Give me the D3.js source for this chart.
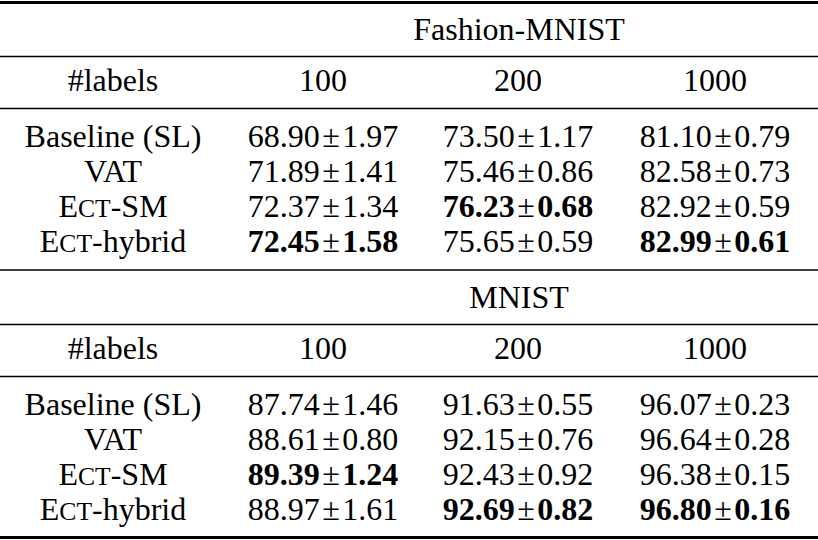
<!DOCTYPE html>
<html>
<head>
<meta charset="utf-8">
<script src="https://cdn.jsdelivr.net/npm/d3@7"></script>
<style>
  body { margin: 0; background: #fff; }
</style>
</head>
<body>
<script>
var labelCounts = ["100", "200", "1000"];
var methods = ["Baseline (SL)", "VAT", "ECT-SM", "ECT-hybrid"];
var datasets = ["Fashion-MNIST", "MNIST"];

// rows = methods, columns = #labels
var fashionMean = [[68.90, 73.50, 81.10], [71.89, 75.46, 82.58], [72.37, 76.23, 82.92], [72.45, 75.65, 82.99]];
var fashionStd  = [[1.97, 1.17, 0.79], [1.41, 0.86, 0.73], [1.34, 0.68, 0.59], [1.58, 0.59, 0.61]];
var mnistMean   = [[87.74, 91.63, 96.07], [88.61, 92.15, 96.64], [89.39, 92.43, 96.38], [88.97, 92.69, 96.80]];
var mnistStd    = [[1.46, 0.55, 0.23], [0.80, 0.76, 0.28], [1.24, 0.92, 0.15], [1.61, 0.82, 0.16]];

var width = 818,
    height = 540,
    fontSize = 32,
    serifFont = "Liberation Serif";

var svg = d3.select("body").append("svg")
    .attr("width", width)
    .attr("height", height);

var x = d3.scaleOrdinal()
    .domain(["method"].concat(labelCounts))
    .range([113, 323, 518, 715]);

var blockY = d3.scaleOrdinal()
    .domain(datasets)
    .range([0, 268]);

var rowY = d3.scaleLinear()
    .domain([0, 1])
    .range([147, 182]);

var blocks = [
  { name: datasets[0], mean: fashionMean, std: fashionStd },
  { name: datasets[1], mean: mnistMean, std: mnistStd }
];

var fmt = d3.format(".2f");

// "ECT" is typeset in small caps
function methodLabel(sel, m) {
  if (m.indexOf("ECT") === 0) {
    sel.append("tspan").text("E");
    sel.append("tspan").attr("class", "sc").text("CT");
    sel.append("tspan").text(m.slice(3));
  } else {
    sel.text(m);
  }
}

function hline(y, w) {
  svg.append("line")
      .attr("x1", 0).attr("x2", width)
      .attr("y1", y).attr("y2", y)
      .attr("stroke", "#000")
      .attr("stroke-width", w);
}

hline(2.5, 3);

blocks.forEach(function(b) {
  var g = svg.append("g")
      .attr("transform", "translate(0," + blockY(b.name) + ")");

  g.append("text")
      .attr("x", (x(labelCounts[0]) + x(labelCounts[labelCounts.length - 1])) / 2)
      .attr("y", 39.5)
      .attr("text-anchor", "middle")
      .text(b.name);

  g.append("text")
      .attr("x", x("method"))
      .attr("y", 90.5)
      .attr("text-anchor", "middle")
      .text("#labels");

  g.selectAll(".count")
      .data(labelCounts)
    .enter().append("text")
      .attr("x", function(d) { return x(d); })
      .attr("y", 90.5)
      .attr("text-anchor", "middle")
      .text(function(d) { return d; });

  g.selectAll(".method")
      .data(methods)
    .enter().append("text")
      .attr("x", x("method"))
      .attr("y", function(d, i) { return rowY(i); })
      .attr("text-anchor", "middle")
      .each(function(d) { methodLabel(d3.select(this), d); });

  var best = labelCounts.map(function(c, j) {
    return d3.maxIndex(b.mean, function(r) { return r[j]; });
  });

  var cells = [];
  b.mean.forEach(function(row, i) {
    row.forEach(function(v, j) {
      cells.push({ i: i, j: j, mean: v, std: b.std[i][j], bold: best[j] === i });
    });
  });

  var t = g.selectAll(".cell")
      .data(cells)
    .enter().append("text")
      .attr("x", function(d) { return x(labelCounts[d.j]); })
      .attr("y", function(d) { return rowY(d.i); })
      .attr("text-anchor", "middle")
      .attr("font-weight", function(d) { return d.bold ? "bold" : "normal"; });

  t.append("tspan").text(function(d) { return fmt(d.mean); });
  t.append("tspan").attr("dx", 2.5).attr("font-weight", "normal").text("\u00b1");
  t.append("tspan").attr("dx", 2.5).text(function(d) { return fmt(d.std); });

  var off = blockY(b.name);
  hline(off + 56.5, 1.5);
  hline(off + 108.5, 1.5);
});

hline(270, 1.5);
hline(537.5, 3);

svg.selectAll("text")
    .style("font-family", serifFont)
    .attr("font-size", fontSize)
    .attr("fill", "#000");
svg.selectAll("tspan.sc").attr("font-size", fontSize * 0.8);
</script>
</body>
</html>
